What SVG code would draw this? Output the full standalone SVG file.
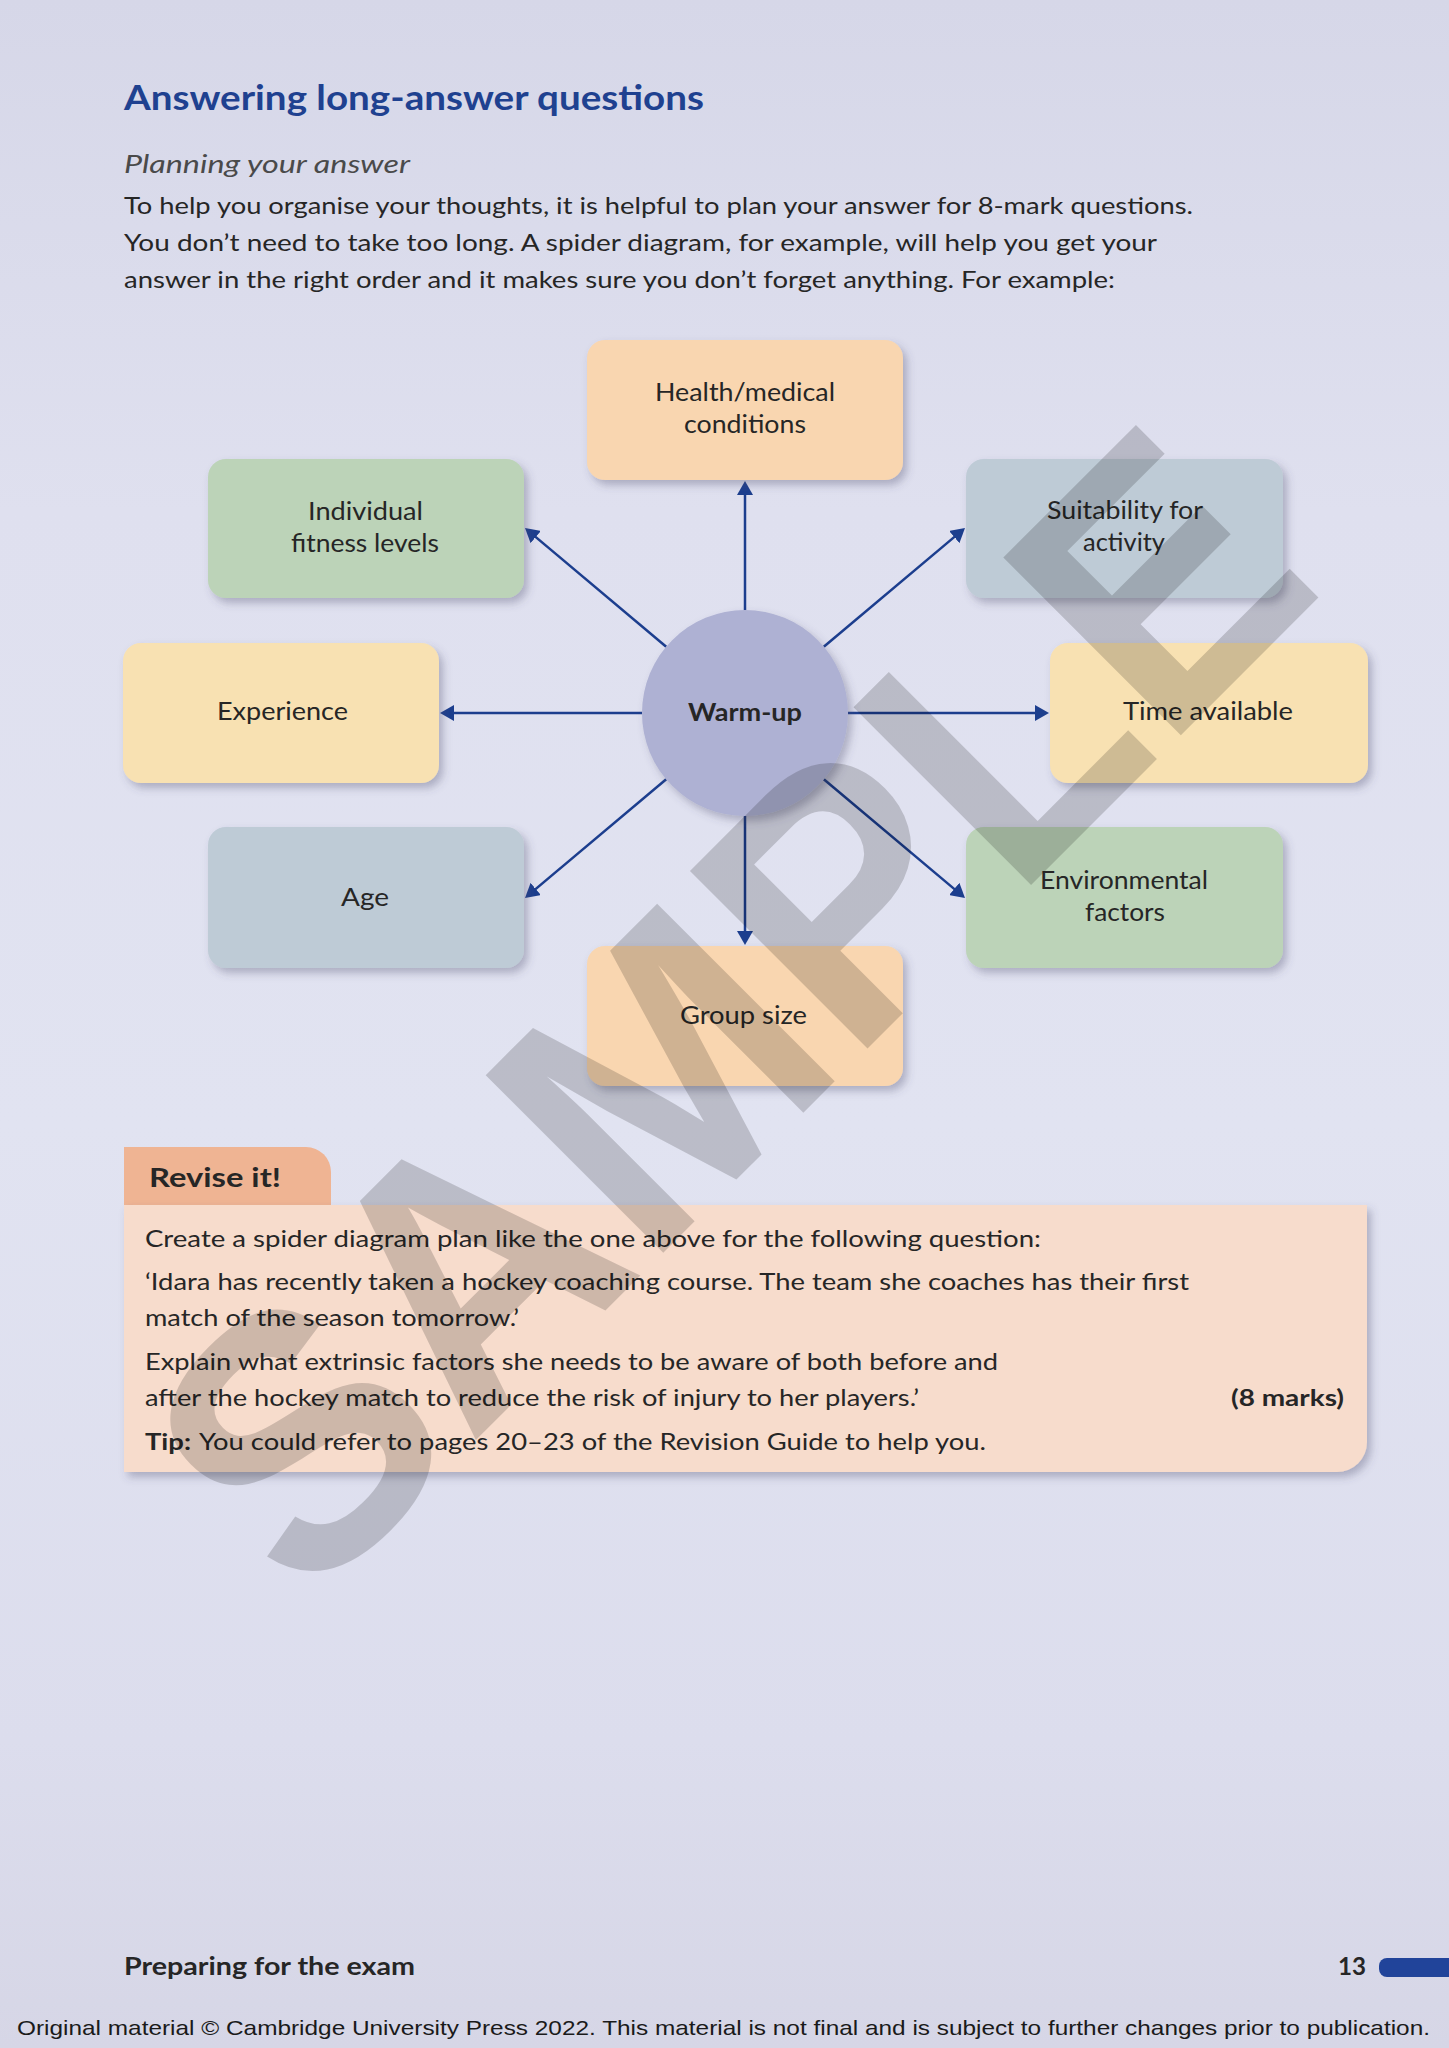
<svg xmlns="http://www.w3.org/2000/svg" width="1449" height="2048" viewBox="0 0 1449 2048">
<defs>
<linearGradient id="bg" x1="0" y1="0" x2="0" y2="1">
<stop offset="0" stop-color="#d6d7e8"/>
<stop offset="0.25" stop-color="#dfe0ef"/>
<stop offset="0.55" stop-color="#e1e3f1"/>
<stop offset="0.85" stop-color="#dcdded"/>
<stop offset="1" stop-color="#d6d6e6"/>
</linearGradient>
<filter id="sh" x="-10%" y="-10%" width="130%" height="140%">
<feDropShadow dx="4" dy="5" stdDeviation="4" flood-color="#4a4a6a" flood-opacity="0.35"/>
</filter>
<marker id="ah" viewBox="0 0 14 16" refX="8" refY="8" markerWidth="14" markerHeight="16" markerUnits="userSpaceOnUse" orient="auto">
<path d="M0,0 L14,8 L0,16 z" fill="#1c3e8e"/>
</marker>
<style>
.t{font-family:Lato,"Liberation Sans",sans-serif;fill:#262626}
.b{font-weight:700}
.n{font-size:25px}
.p{font-size:23px}
.box{filter:url(#sh)}
.peach{fill:#f9d6b0}
.green{fill:#bcd3b8}
.grey{fill:#becbd6}
.yellow{fill:#f8e1b2}
.conn line{stroke:#1c3e8e;stroke-width:2.5;marker-end:url(#ah)}
</style>
</defs>
<rect width="1449" height="2048" fill="url(#bg)"/>

<text class="t b" x="124" y="110" font-size="34" style="fill:#1f4190" textLength="580" lengthAdjust="spacingAndGlyphs">Answering long-answer questions</text>
<text class="t" x="124" y="173" font-size="26" font-style="italic" style="fill:#4a4a4a" textLength="286" lengthAdjust="spacingAndGlyphs">Planning your answer</text>
<text class="t p" x="124" y="214" textLength="1069" lengthAdjust="spacingAndGlyphs">To help you organise your thoughts, it is helpful to plan your answer for 8-mark questions.</text>
<text class="t p" x="124" y="251" textLength="1033" lengthAdjust="spacingAndGlyphs">You don’t need to take too long. A spider diagram, for example, will help you get your</text>
<text class="t p" x="124" y="288" textLength="991" lengthAdjust="spacingAndGlyphs">answer in the right order and it makes sure you don’t forget anything. For example:</text>

<g id="connectors" class="conn">
<line x1="745" y1="610" x2="745" y2="487"/>
<line x1="745" y1="816" x2="745" y2="939"/>
<line x1="642" y1="713" x2="446" y2="713"/>
<line x1="848" y1="713" x2="1043" y2="713"/>
<line x1="666.2" y1="646.7" x2="529.6" y2="531.9"/>
<line x1="823.8" y1="646.7" x2="960.4" y2="531.9"/>
<line x1="666.2" y1="779.3" x2="529.6" y2="894.1"/>
<line x1="823.8" y1="779.3" x2="960.4" y2="894.1"/>
</g>

<g id="node-health">
<rect class="box peach" x="587" y="340" width="316" height="140" rx="18"/>
<text class="t n" x="655" y="401" textLength="180" lengthAdjust="spacingAndGlyphs">Health/medical</text>
<text class="t n" x="684" y="433" textLength="122" lengthAdjust="spacingAndGlyphs">conditions</text>
</g>
<g id="node-individual">
<rect class="box green" x="208" y="459" width="316" height="139" rx="18"/>
<text class="t n" x="308" y="520" textLength="115" lengthAdjust="spacingAndGlyphs">Individual</text>
<text class="t n" x="291" y="552" textLength="148" lengthAdjust="spacingAndGlyphs">fitness levels</text>
</g>
<g id="node-suitability">
<rect class="box grey" x="966" y="459" width="317" height="139" rx="18"/>
<text class="t n" x="1047" y="519" textLength="156" lengthAdjust="spacingAndGlyphs">Suitability for</text>
<text class="t n" x="1083" y="551" textLength="82" lengthAdjust="spacingAndGlyphs">activity</text>
</g>
<g id="node-experience">
<rect class="box yellow" x="123" y="643" width="316" height="140" rx="18"/>
<text class="t n" x="217" y="720" textLength="131" lengthAdjust="spacingAndGlyphs">Experience</text>
</g>
<g id="node-time">
<rect class="box yellow" x="1050" y="643" width="318" height="140" rx="18"/>
<text class="t n" x="1123" y="720" textLength="170" lengthAdjust="spacingAndGlyphs">Time available</text>
</g>
<g id="node-age">
<rect class="box grey" x="208" y="827" width="316" height="141" rx="18"/>
<text class="t n" x="341" y="906" textLength="48" lengthAdjust="spacingAndGlyphs">Age</text>
</g>
<g id="node-environmental">
<rect class="box green" x="966" y="827" width="317" height="141" rx="18"/>
<text class="t n" x="1040" y="889" textLength="168" lengthAdjust="spacingAndGlyphs">Environmental</text>
<text class="t n" x="1085" y="921" textLength="80" lengthAdjust="spacingAndGlyphs">factors</text>
</g>
<g id="node-group">
<rect class="box peach" x="587" y="946" width="316" height="140" rx="18"/>
<text class="t n" x="680" y="1024" textLength="127" lengthAdjust="spacingAndGlyphs">Group size</text>
</g>
<g id="node-warmup">
<circle class="box" cx="745" cy="713" r="103" fill="#aeb1d3"/>
<text class="t n b" x="688" y="721" textLength="114" lengthAdjust="spacingAndGlyphs">Warm-up</text>
</g>

<g id="revise">
<path d="M124,1147 H306 A25,25 0 0 1 331,1172 V1206 H124 Z" fill="#efb493"/>
<path class="box" d="M124,1205 H1367 V1442 A30,30 0 0 1 1337,1472 H124 Z" fill="#f7dccc"/>
<text class="t b" x="149" y="1187" font-size="26" textLength="132" lengthAdjust="spacingAndGlyphs">Revise it!</text>
<text class="t p" x="145" y="1247" textLength="896" lengthAdjust="spacingAndGlyphs">Create a spider diagram plan like the one above for the following question:</text>
<text class="t p" x="145" y="1290" textLength="1044" lengthAdjust="spacingAndGlyphs">‘Idara has recently taken a hockey coaching course. The team she coaches has their first</text>
<text class="t p" x="145" y="1326" textLength="374" lengthAdjust="spacingAndGlyphs">match of the season tomorrow.’</text>
<text class="t p" x="145" y="1370" textLength="853" lengthAdjust="spacingAndGlyphs">Explain what extrinsic factors she needs to be aware of both before and</text>
<text class="t p" x="145" y="1406" textLength="774" lengthAdjust="spacingAndGlyphs">after the hockey match to reduce the risk of injury to her players.’</text>
<text class="t p b" x="1231" y="1406" textLength="113" lengthAdjust="spacingAndGlyphs">(8 marks)</text>
<text class="t p b" x="145" y="1450" textLength="46" lengthAdjust="spacingAndGlyphs">Tip:</text>
<text class="t p" x="199" y="1450" textLength="787" lengthAdjust="spacingAndGlyphs">You could refer to pages 20–23 of the Revision Guide to help you.</text>
</g>

<g id="footer">
<text class="t b" x="124" y="1975" font-size="24" textLength="291" lengthAdjust="spacingAndGlyphs">Preparing for the exam</text>
<text class="t b" x="1338" y="1975" font-size="25" textLength="28" lengthAdjust="spacingAndGlyphs">13</text>
<path d="M1387,1958 H1449 V1977 H1387 A8,8 0 0 1 1379,1969 V1966 A8,8 0 0 1 1387,1958 Z" fill="#21449a"/>
<text x="17" y="2035" font-family="Liberation Sans, Arial, sans-serif" font-size="21" fill="#1a1a1a" textLength="1413" lengthAdjust="spacingAndGlyphs">Original material © Cambridge University Press 2022. This material is not final and is subject to further changes prior to publication.</text>
</g>

<text x="1328" y="588" text-anchor="end" transform="rotate(-45 1328 588)" font-family="Liberation Sans, Arial, sans-serif" font-weight="700" font-size="365" fill="#000" fill-opacity="0.17" textLength="1445" lengthAdjust="spacingAndGlyphs">SAMPLE</text>
</svg>
